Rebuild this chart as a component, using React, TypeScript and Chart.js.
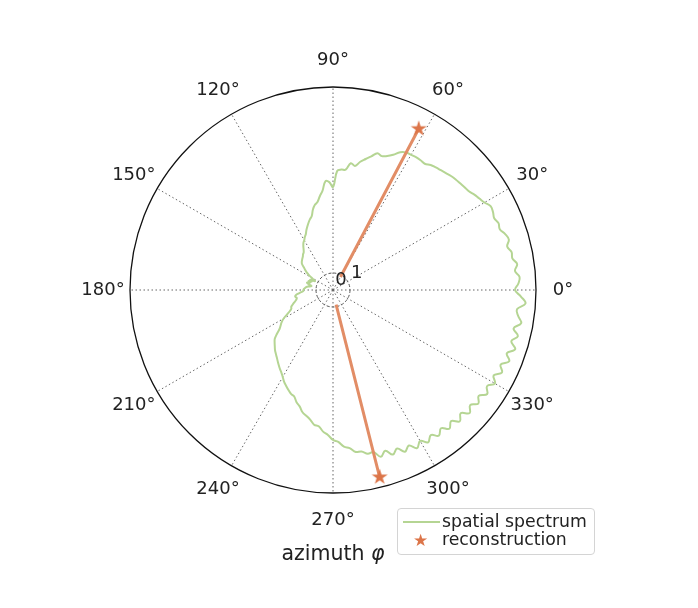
import React, { useEffect, useRef } from 'react';
import Chart from 'chart.js/auto';

// sampling grid of the spectrum (deg, counter-clockwise from east)
const AZ_STEP = 2;
const azimuths: number[] = Array.from({ length: 360 / AZ_STEP }, (_, i) => i * AZ_STEP);

// spatial spectrum radius, one value per azimuth above
const spectrum: number[] = [
  10.71, 10.91, 11.0, 10.76, 10.94, 10.71, 10.74, 10.56, 10.76, 10.65, 10.44, 10.5, 10.38, 10.47, 10.5,
  10.29, 10.15, 10.03, 9.88, 9.82, 9.76, 9.71, 9.65, 9.56, 9.48, 9.41, 9.33, 9.18, 9.21, 9.21,
  9.18, 9.16, 9.01, 8.71, 8.5, 8.38, 8.46, 8.18, 7.94, 7.71, 7.41, 7.53, 7.12, 7.1, 7.0,
  6.06, 6.35, 6.41, 5.88, 5.57, 5.26, 5.12, 4.88, 4.53, 4.38, 4.21, 4.03, 3.85, 3.65, 3.53,
  3.38, 3.28, 3.12, 2.94, 2.8, 2.74, 2.65, 2.59, 2.53, 2.47, 2.38, 2.18, 2.03, 1.88, 1.68,
  1.47, 1.29, 1.18, 1.47, 1.35, 1.53, 1.41, 1.59, 1.5, 1.35, 1.29, 1.47, 1.59, 1.65, 1.71,
  1.74, 1.75, 1.88, 2.06, 2.21, 2.26, 2.18, 2.21, 2.29, 2.41, 2.53, 2.65, 2.68, 2.82, 3.06,
  3.35, 3.56, 3.71, 3.88, 4.18, 4.47, 4.62, 4.76, 4.91, 5.03, 5.15, 5.29, 5.44, 5.59, 5.73,
  5.91, 6.12, 6.28, 6.44, 6.59, 6.67, 6.94, 7.12, 7.41, 7.56, 7.74, 8.0, 8.06, 8.35, 8.53,
  8.82, 8.94, 9.24, 9.35, 9.62, 9.65, 9.85, 9.82, 10.21, 9.94, 10.3, 10.06, 10.41, 10.18, 10.53,
  10.25, 10.56, 10.29, 10.59, 10.32, 10.65, 10.38, 10.74, 10.44, 10.82, 10.53, 10.85, 10.59, 10.94, 10.68,
  11.0, 10.7, 11.06, 10.79, 11.18, 10.88, 11.27, 10.91, 11.21, 10.86, 11.24, 11.0, 10.88, 11.35, 11.06,
];

// reconstructed sources
const reconAz: number[] = [62, 284];
const reconR: number[] = [10.74, 11.34];
const RECON_INNER = 0.88;

// axes
const angleTicks: number[] = [0, 30, 60, 90, 120, 150, 180, 210, 240, 270, 300, 330];
const rTickLabels: number[] = [0, 1];
const R_MAX = 11.94;
const RLABEL_AZ = 22.5;

const GREEN = '#b5d593';
const ORANGE = '#e28d66';
const STAR = '#dc7549';
const FONT = '"DejaVu Sans", sans-serif';

// filled 5-point star marker like matplotlib's '*'
function makeStar(size: number, color: string): HTMLCanvasElement {
  const c = document.createElement('canvas');
  c.width = size;
  c.height = size;
  const g = c.getContext('2d')!;
  const R = size * 0.42;
  const r = R * 0.382;
  g.translate(size / 2, size / 2);
  g.beginPath();
  for (let k = 0; k < 10; k++) {
    const a = -Math.PI / 2 + (k * Math.PI) / 5;
    const rad = k % 2 === 0 ? R : r;
    g.lineTo(Math.cos(a) * rad, Math.sin(a) * rad);
  }
  g.closePath();
  g.fillStyle = color;
  g.fill();
  return c;
}

const polarLabels = {
  id: 'polarLabels',
  afterDraw(chart: any) {
    const scale = chart.scales.r;
    const labels: number[] = chart.data.labels;
    const ctx = chart.ctx;
    ctx.save();
    ctx.fillStyle = '#222';
    ctx.font = `18px ${FONT}`;
    ctx.textAlign = 'center';
    ctx.textBaseline = 'middle';
    angleTicks.forEach((az) => {
      const p = scale.getPointPosition(labels.indexOf(az), scale.drawingArea + 27);
      ctx.fillText(`${az}°`, p.x, p.y);
    });
    const a = (RLABEL_AZ * Math.PI) / 180;
    rTickLabels.forEach((v) => {
      const d = scale.getDistanceFromCenterForValue(v);
      ctx.fillText(String(v), scale.xCenter + d * Math.cos(a) + 8, scale.yCenter - d * Math.sin(a) - 10);
    });
    ctx.restore();
  },
};

const App: React.FC = () => {
  const chartRef = useRef<HTMLCanvasElement>(null);
  const chartInstance = useRef<Chart | null>(null);

  useEffect(() => {
    if (!chartRef.current) return;
    if (chartInstance.current) chartInstance.current.destroy();

    // radar goes clockwise from startAngle, so walk the azimuths backwards
    const n = azimuths.length;
    const order = azimuths.map((_, i) => (n - i) % n);
    const labels = order.map((k) => azimuths[k]);
    const spectrumData = order.map((k) => spectrum[k]);

    const reconData: (number | null)[] = labels.map(() => null);
    reconAz.forEach((az, j) => {
      const idx = labels.indexOf(az);
      reconData[idx] = reconR[j];
      reconData[(idx + 1) % n] = RECON_INNER;
    });

    const star = makeStar(20, STAR);

    chartInstance.current = new Chart(chartRef.current, {
      type: 'radar',
      data: {
        labels,
        datasets: [
          {
            label: 'spatial spectrum',
            data: spectrumData,
            borderColor: GREEN,
            borderWidth: 2,
            pointRadius: 0,
            fill: false,
            tension: 0.4,
            order: 1,
          },
          {
            label: 'reconstruction',
            data: reconData,
            borderColor: ORANGE,
            borderWidth: 3,
            fill: false,
            tension: 0,
            pointStyle: star,
            pointRadius: (ctx: any) => (reconAz.includes(labels[ctx.dataIndex]) ? 8 : 0),
            order: 0,
          },
        ],
      },
      options: {
        responsive: true,
        maintainAspectRatio: false,
        animation: false,
        events: [],
        layout: { padding: { left: 122, top: 79, right: 154, bottom: 107 } },
        plugins: {
          legend: { display: false },
          tooltip: { enabled: false },
        },
        scales: {
          r: {
            min: 0,
            max: R_MAX,
            startAngle: 90,
            afterBuildTicks: (axis: any) => {
              axis.ticks = [0, 1, R_MAX].map((v) => ({ value: v }));
            },
            ticks: { display: false },
            pointLabels: { display: false },
            grid: {
              circular: true,
              color: (ctx: any) => (ctx.tick.value === R_MAX ? '#111' : '#555'),
              lineWidth: (ctx: any) => (ctx.tick.value === R_MAX ? 1.3 : 1),
            },
            border: {
              dash: (ctx: any) => (ctx.tick.value === R_MAX ? [] : [3, 2]),
            },
            angleLines: {
              color: '#666',
              lineWidth: (ctx: any) => (ctx.index % (30 / AZ_STEP) === 0 ? 1 : 0),
              borderDash: [1.5, 2.5],
            },
          },
        },
      } as any,
      plugins: [polarLabels],
    });

    return () => {
      if (chartInstance.current) {
        chartInstance.current.destroy();
        chartInstance.current = null;
      }
    };
  }, []);

  return (
    <div style={{ position: 'relative', width: 682, height: 592, fontFamily: FONT, color: '#222' }}>
      <canvas ref={chartRef}></canvas>
      <div
        style={{
          position: 'absolute',
          left: 325,
          top: 545,
          transform: 'translate(-50%, -50%)',
          fontSize: 20.5,
          whiteSpace: 'nowrap',
        }}
      >
        azimuth <i>φ</i>
      </div>
      <div
        style={{
          position: 'absolute',
          left: 389,
          top: 500,
          width: 198,
          height: 47,
          boxSizing: 'border-box',
          border: '1px solid #d4d4d4',
          borderRadius: 4,
          background: 'rgba(255,255,255,0.8)',
          fontSize: 17.3,
          lineHeight: '20px',
          whiteSpace: 'nowrap',
        }}
      >
        <div style={{ position: 'absolute', left: 5, top: 12, width: 37, height: 2, background: GREEN }} />
        <div style={{ position: 'absolute', left: 44, top: 2 }}>spatial spectrum</div>
        <div style={{ position: 'absolute', left: 15, top: 21, color: STAR, fontSize: 17 }}>★</div>
        <div style={{ position: 'absolute', left: 44, top: 19.5 }}>reconstruction</div>
      </div>
    </div>
  );
};

export default App;
